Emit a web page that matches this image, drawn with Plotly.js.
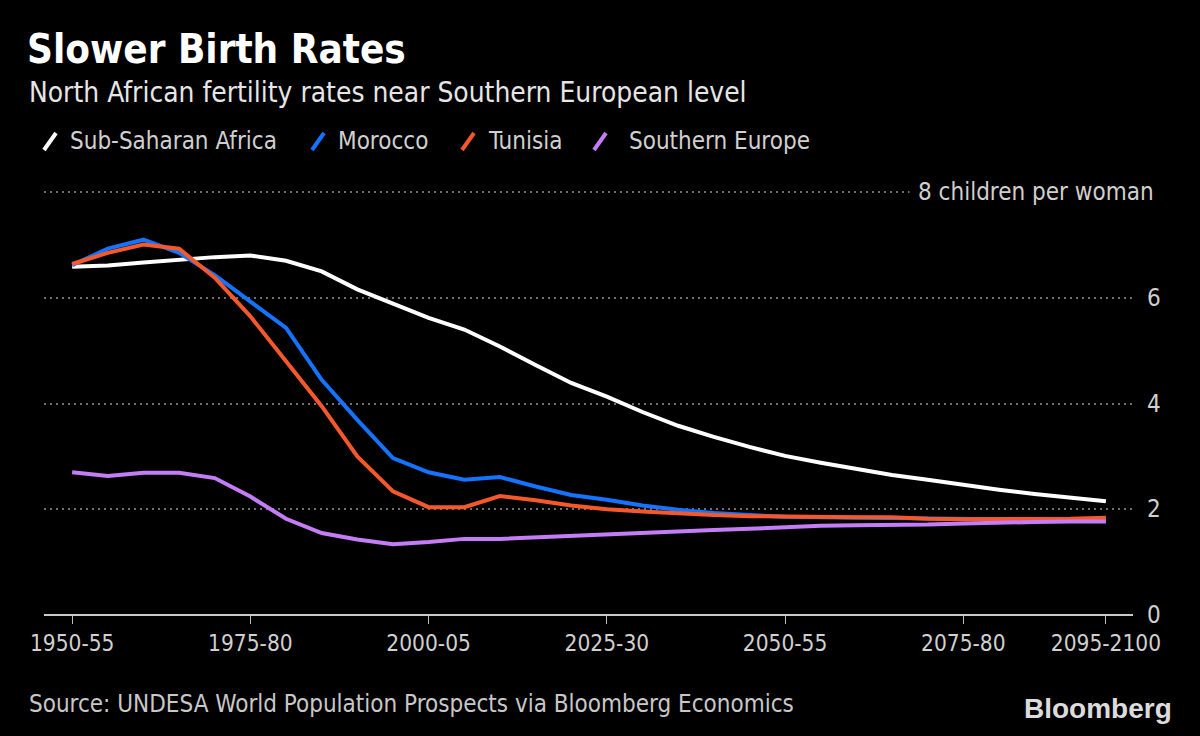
<!DOCTYPE html>
<html>
<head>
<meta charset="utf-8">
<script src="https://cdn.plot.ly/plotly-3.0.1.min.js"></script>
<style>
  html, body { margin: 0; padding: 0; background: #000; }
  #chart { width: 1200px; height: 736px; }
</style>
</head>
<body>
<div id="chart"></div>
<script>
const periods = ["1950-55","1955-60","1960-65","1965-70","1970-75","1975-80","1980-85","1985-90","1990-95","1995-2000",
  "2000-05","2005-10","2010-15","2015-20","2020-25","2025-30","2030-35","2035-40","2040-45","2045-50",
  "2050-55","2055-60","2060-65","2065-70","2070-75","2075-80","2080-85","2085-90","2090-95","2095-2100"];

const subSaharanAfrica = [6.59,6.61,6.67,6.72,6.77,6.80,6.70,6.50,6.16,5.89,5.62,5.40,5.08,4.73,4.39,4.13,3.84,3.58,3.37,3.18,3.01,2.88,2.77,2.65,2.56,2.46,2.37,2.29,2.22,2.15];
const morocco = [6.62,6.93,7.10,6.85,6.43,5.92,5.43,4.45,3.69,2.97,2.70,2.56,2.61,2.43,2.27,2.18,2.07,1.99,1.93,1.89,1.86,1.85,1.84,1.83,1.82,1.82,1.81,1.81,1.80,1.80];
const tunisia = [6.64,6.85,7.01,6.93,6.38,5.65,4.80,3.95,3.00,2.34,2.04,2.04,2.25,2.17,2.07,2.00,1.96,1.92,1.89,1.87,1.86,1.85,1.85,1.85,1.82,1.81,1.81,1.81,1.82,1.84];
const southernEurope = [2.70,2.63,2.69,2.69,2.59,2.24,1.82,1.55,1.43,1.34,1.38,1.44,1.44,1.47,1.50,1.52,1.55,1.58,1.61,1.63,1.66,1.69,1.70,1.70,1.71,1.73,1.75,1.76,1.77,1.77];

const seriesNames = ["Sub-Saharan Africa","Morocco","Tunisia","Southern Europe"];
const seriesColors = ["#ffffff","#1473ff","#f5592b","#c47cf7"];

const xTickVals = ["1950-55","1975-80","2000-05","2025-30","2050-55","2075-80","2095-2100"];
const yTickVals = [0,2,4,6,8];
const yTickLabels = ["0","2","4","6","8 children per woman"];

const FONT = "'DejaVu Sans Condensed', 'DejaVu Sans', sans-serif";

// plot area in pixels
const L = 44, R = 1133, T = 190, B = 615;
const YMAX = 8.04;
const px = x => (x - L) / (R - L);
const py = y => (B - y) / (B - T);

const seriesData = [subSaharanAfrica, morocco, tunisia, southernEurope];
const traces = seriesData.map((vals, i) => ({
  type: "scatter",
  mode: "lines",
  x: periods,
  y: vals,
  name: seriesNames[i],
  line: { color: seriesColors[i], width: 4 },
  hoverinfo: "skip"
}));

const shapes = [];
const annotations = [];

// y labels at right
yTickVals.forEach((v, i) => {
  annotations.push({
    xref: "paper", yref: "y", x: px(1163), y: v,
    xanchor: "right", yanchor: "middle",
    text: yTickLabels[i], showarrow: false,
    font: { family: FONT, size: 24, color: "#d0d0d0" },
    bgcolor: "#000000", borderpad: (i === yTickVals.length - 1) ? 8 : 1
  });
});

// legend
const legendIconX = [44, 312, 462, 594];
const legendTextX = [68, 336, 486, 627];
seriesNames.forEach((n, i) => {
  shapes.push({
    type: "line", xref: "paper", yref: "paper",
    x0: px(legendIconX[i]), y0: py(150), x1: px(legendIconX[i] + 12), y1: py(133),
    line: { color: seriesColors[i], width: 4 }
  });
  annotations.push({
    xref: "paper", yref: "paper", x: px(legendTextX[i]), y: py(141),
    xanchor: "left", yanchor: "middle", text: n, showarrow: false,
    font: { family: FONT, size: 24, color: "#d0d0d0" }
  });
});

// subtitle
annotations.push({
  xref: "paper", yref: "paper", x: px(27), y: py(93),
  xanchor: "left", yanchor: "middle", showarrow: false,
  text: "North African fertility rates near Southern European level",
  font: { family: FONT, size: 27.9, color: "#e6e6e6" }
});
// source
annotations.push({
  xref: "paper", yref: "paper", x: px(27), y: py(704),
  xanchor: "left", yanchor: "middle", showarrow: false,
  text: "Source: UNDESA World Population Prospects via Bloomberg Economics",
  font: { family: FONT, size: 24, color: "#c8c8c8" }
});
// logo
annotations.push({
  xref: "paper", yref: "paper", x: px(1174), y: py(708),
  xanchor: "right", yanchor: "middle", showarrow: false,
  text: "<b>Bloomberg</b>",
  font: { family: "'Liberation Sans Narrow', 'Liberation Sans', Arial, sans-serif", size: 28, color: "#dcdcdc" }
});

const layout = {
  width: 1200, height: 736,
  paper_bgcolor: "#000000", plot_bgcolor: "#000000",
  margin: { l: L, r: 1200 - R, t: T, b: 736 - B },
  showlegend: false,
  title: {
    text: "<b>Slower Birth Rates</b>",
    x: 27 / 1200, xref: "container", xanchor: "left",
    y: 1 - 49 / 736, yref: "container", yanchor: "middle",
    font: { family: FONT, size: 40, color: "#ffffff" }
  },
  xaxis: {
    type: "category",
    categoryorder: "array", categoryarray: periods,
    range: [-0.79, 29.76],
    tickmode: "array", tickvals: xTickVals, ticktext: xTickVals,
    ticks: "outside", ticklen: 8, tickwidth: 1, tickcolor: "#bbbbbb",
    showline: false, showgrid: false, zeroline: false,
    tickfont: { family: FONT, size: 22.5, color: "#d0d0d0" },
    fixedrange: true
  },
  yaxis: {
    range: [0, YMAX],
    tickmode: "array", tickvals: [2, 4, 6, 8],
    showticklabels: false, ticks: "",
    showgrid: true, gridcolor: "#707070", griddash: "2px,4px", gridwidth: 2,
    zeroline: true, zerolinecolor: "#c8c8c8", zerolinewidth: 1.5,
    showline: false,
    fixedrange: true
  },
  shapes: shapes,
  annotations: annotations
};

Plotly.newPlot("chart", traces, layout, { staticPlot: true, displayModeBar: false });
</script>
</body>
</html>
